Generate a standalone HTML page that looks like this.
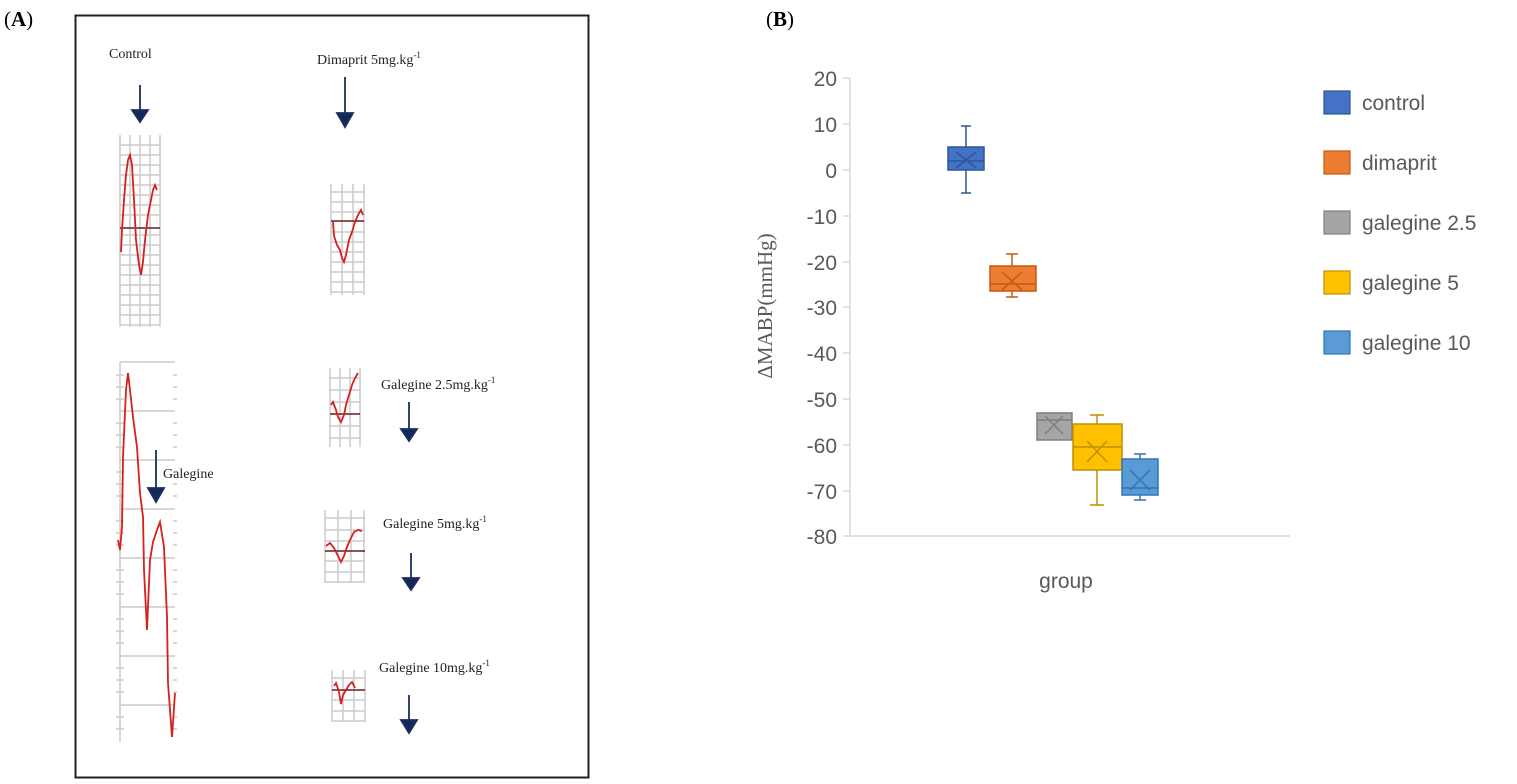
<!DOCTYPE html>
<html><head><meta charset="utf-8"><style>
html,body{margin:0;padding:0;background:#fff;width:1517px;height:784px;overflow:hidden}
svg{display:block}
</style></head><body>
<svg width="1517" height="784" viewBox="0 0 1517 784" xmlns="http://www.w3.org/2000/svg">
<defs>
<marker id="ah" viewBox="0 0 10 10" refX="5" refY="9" markerWidth="4" markerHeight="4" orient="auto-start-reverse"></marker>
</defs>
<g font-family="Liberation Serif, serif" fill="#000">
<text x="4" y="26" font-size="21">(<tspan font-weight="bold">A</tspan>)</text>
<text x="766" y="26" font-size="21">(<tspan font-weight="bold">B</tspan>)</text>
</g>
<rect x="75.5" y="15.5" width="513" height="762" fill="none" stroke="#222" stroke-width="2"/>

<!-- grids -->
<g stroke="#ccc" stroke-width="1.5" fill="none">
 <!-- control grid -->
 <path d="M120 135V327M130 135V327M140 135V327M150 135V327M160 135V327"/>
 <path d="M120 145H160M120 155H160M120 165H160M120 175H160M120 185H160M120 195H160M120 205H160M120 215H160M120 235H160M120 245H160M120 255H160M120 265H160M120 275H160M120 285H160M120 295H160M120 305H160M120 315H160M120 325H160"/>
 <!-- dimaprit grid -->
 <path d="M331 184V295M342 184V295M353 184V295M364 184V295"/>
 <path d="M331 192H364M331 202H364M331 212H364M331 232H364M331 242H364M331 252H364M331 262H364M331 272H364M331 282H364M331 292H364"/>
 <!-- long grid -->
 <path d="M120 362V742"/>
 <path d="M120 362H175M120 411H175M120 460H175M120 509H175M120 558H175M120 607H175M120 656H175M120 705H175"/>
 <path d="M116 375H124M116 387H124M116 399H124M116 423H124M116 435H124M116 447H124M116 472H124M116 484H124M116 496H124M116 521H124M116 533H124M116 545H124M116 570H124M116 582H124M116 594H124M116 619H124M116 631H124M116 643H124M116 668H124M116 680H124M116 692H124M116 717H124M116 729H124"/>
 <path d="M173 375H177M173 387H177M173 399H177M173 423H177M173 435H177M173 447H177M173 472H177M173 484H177M173 496H177M173 521H177M173 533H177M173 545H177M173 570H177M173 582H177M173 594H177M173 619H177M173 631H177M173 643H177M173 668H177M173 680H177M173 692H177M173 717H177M173 729H177"/>
 <!-- g2.5 -->
 <path d="M330 368V447M340 368V447M350 368V447M360 368V447"/>
 <path d="M330 378H360M330 390H360M330 402H360M330 426H360M330 438H360"/>
 <!-- g5 -->
 <path d="M325 510V583M338 510V583M351 510V583M364 510V583"/>
 <path d="M325 518H365M325 530H365M325 541H365M325 561H365M325 572H365M325 582H365"/>
 <!-- g10 -->
 <path d="M332 670V722M343 670V722M354 670V722M365 670V722"/>
 <path d="M332 678H365M332 700H365M332 711H365M332 721H365"/>
</g>
<!-- baselines -->
<g stroke="#6b1a1a" stroke-width="1.5">
 <path d="M120 228H160M331 221H364M330 414H360M325 551H365M332 690H365"/>
</g>
<!-- traces -->
<g stroke="#d42020" stroke-width="1.8" fill="none">
 <path d="M121 252 L122 230 L124 200 L126 175 L128 160 L130 155 L132 165 L134 200 L136 240 L139 265 L141 275 L143 262 L145 240 L148 215 L151 200 L153 190 L155 185 L157 190"/>
 <path d="M333 222 L334 236 L337 245 L340 250 L342 258 L344 262 L346 255 L349 240 L352 232 L355 222 L358 215 L361 210 L363 215"/>
 <path d="M118 540 L120 550 L122 527 L123 457 L126 390 L128 373 L130 390 L133 417 L137 447 L140 493 L143 517 L144 570 L147 630 L150 560 L153 542 L157 530 L160 522 L164 547 L167 617 L168 683 L172 737 L175 693"/>
 <path d="M331 405 L333 402 L336 410 L338 417 L341 422 L344 415 L346 405 L349 395 L352 385 L355 378 L358 373"/>
 <path d="M326 546 L330 543 L334 548 L338 556 L341 562 L344 556 L347 547 L350 540 L354 532 L358 530 L362 531"/>
 <path d="M334 686 L336 683 L339 692 L341 704 L343 695 L346 690 L349 685 L352 682 L355 688"/>
</g>
<!-- arrows -->
<g stroke="#1b2f5e" stroke-width="1.8" fill="#12275a">
 <path d="M140 85V110" fill="none"/><polygon points="132,110 148,110 140,122"/>
 <path d="M345 77V113" fill="none"/><polygon points="337,113 353,113 345,127"/>
 <path d="M156 450V488" fill="none"/><polygon points="148,488 164,488 156,502"/>
 <path d="M409 402V429" fill="none"/><polygon points="401,429 417,429 409,441"/>
 <path d="M411 553V578" fill="none"/><polygon points="403,578 419,578 411,590"/>
 <path d="M409 695V720" fill="none"/><polygon points="401,720 417,720 409,733"/>
</g>
<g font-family="Liberation Serif, serif" font-size="14" fill="#222">
 <text x="109" y="58">Control</text>
 <text x="317" y="64">Dimaprit 5mg.kg<tspan dy="-6" font-size="9">-1</tspan></text>
 <text x="163" y="478">Galegine</text>
 <text x="381" y="389">Galegine 2.5mg.kg<tspan dy="-6" font-size="9">-1</tspan></text>
 <text x="383" y="528">Galegine 5mg.kg<tspan dy="-6" font-size="9">-1</tspan></text>
 <text x="379" y="672">Galegine 10mg.kg<tspan dy="-6" font-size="9">-1</tspan></text>
</g>

<!-- Panel B -->
<g stroke="#d9d9d9" stroke-width="1.5">
 <path d="M850 78V536M850 536H1290"/>
 <path d="M843 78H850M843 124H850M843 170H850M843 216H850M843 262H850M843 307H850M843 353H850M843 399H850M843 445H850M843 491H850M843 536H850"/>
</g>
<g font-family="Liberation Sans, sans-serif" font-size="21" fill="#595959" text-anchor="end">
 <text x="837" y="86">20</text><text x="837" y="132">10</text><text x="837" y="178">0</text>
 <text x="837" y="224">-10</text><text x="837" y="270">-20</text><text x="837" y="315">-30</text>
 <text x="837" y="361">-40</text><text x="837" y="407">-50</text><text x="837" y="453">-60</text>
 <text x="837" y="499">-70</text><text x="837" y="544">-80</text>
</g>
<text x="1066" y="588" font-family="Liberation Sans, sans-serif" font-size="21" fill="#595959" text-anchor="middle">group</text>
<text transform="translate(772,306) rotate(-90)" font-family="Liberation Serif, serif" font-size="21" fill="#595959" text-anchor="middle">ΔMABP(mmHg)</text>

<!-- boxes -->
<g stroke-width="1.5">
 <g stroke="#2f5597" fill="#4472c4">
  <path d="M966 126V147M966 170V193M961 126H971M961 193H971" fill="none"/>
  <rect x="948" y="147" width="36" height="23"/>
  <path d="M948 161H984M956 152L976 168M956 168L976 152" fill="none"/>
 </g>
 <g stroke="#c55a11" fill="#ed7d31">
  <path d="M1012 254V266M1012 291V297M1006 254H1018M1006 297H1018" fill="none"/>
  <rect x="990" y="266" width="46" height="25"/>
  <path d="M990 284H1036M1002 272L1022 290M1002 290L1022 272" fill="none"/>
 </g>
 <g stroke="#7f7f7f" fill="#a5a5a5">
  <rect x="1037" y="413" width="35" height="27"/>
  <path d="M1037 420H1072M1045 416L1063 434M1045 434L1063 416" fill="none"/>
 </g>
 <g stroke="#bf9000" fill="#ffc000">
  <path d="M1097 415V424M1097 470V505M1090 415H1104M1090 505H1104" fill="none"/>
  <rect x="1073" y="424" width="49" height="46"/>
  <path d="M1073 447H1122M1087 441L1107 462M1087 462L1107 441" fill="none"/>
 </g>
 <g stroke="#2e75b6" fill="#5b9bd5">
  <path d="M1140 454V459M1140 495V500M1134 454H1146M1134 500H1146" fill="none"/>
  <rect x="1122" y="459" width="36" height="36"/>
  <path d="M1122 488H1158M1130 470L1150 490M1130 490L1150 470" fill="none"/>
 </g>
</g>

<!-- legend -->
<g stroke-width="1.2">
 <rect x="1324" y="91" width="26" height="23" fill="#4472c4" stroke="#2f5597"/>
 <rect x="1324" y="151" width="26" height="23" fill="#ed7d31" stroke="#c55a11"/>
 <rect x="1324" y="211" width="26" height="23" fill="#a5a5a5" stroke="#7f7f7f"/>
 <rect x="1324" y="271" width="26" height="23" fill="#ffc000" stroke="#bf9000"/>
 <rect x="1324" y="331" width="26" height="23" fill="#5b9bd5" stroke="#2e75b6"/>
</g>
<g font-family="Liberation Sans, sans-serif" font-size="21" fill="#595959">
 <text x="1362" y="110">control</text>
 <text x="1362" y="170">dimaprit</text>
 <text x="1362" y="230">galegine 2.5</text>
 <text x="1362" y="290">galegine 5</text>
 <text x="1362" y="350">galegine 10</text>
</g>
</svg>
</body></html>
